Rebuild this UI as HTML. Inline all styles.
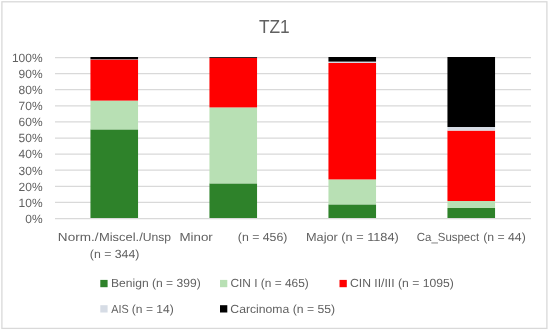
<!DOCTYPE html>
<html lang="en"><head><meta charset="utf-8"><title>TZ1</title>
<style>html,body{margin:0;padding:0;background:#fff}svg{display:block}text{font-family:"Liberation Sans",Arial,sans-serif;fill:#616161;text-rendering:geometricPrecision}</style></head>
<body>
<svg width="550" height="332" viewBox="0 0 550 332">
<defs><filter id="soft" x="0" y="0" width="550" height="332" filterUnits="userSpaceOnUse" color-interpolation-filters="sRGB"><feGaussianBlur stdDeviation="0.4"/></filter></defs>
<g filter="url(#soft)">
<rect x="-5" y="-5" width="560" height="342" fill="#fff"/>
<rect x="1.9" y="1.8" width="545" height="326.6" fill="#fff" stroke="#D9D9D9" stroke-width="1.3"/>
<line x1="55.0" y1="218.50" x2="531.0" y2="218.50" stroke="#D9D9D9" stroke-width="1.25"/>
<line x1="55.0" y1="202.40" x2="531.0" y2="202.40" stroke="#D9D9D9" stroke-width="1.25"/>
<line x1="55.0" y1="186.30" x2="531.0" y2="186.30" stroke="#D9D9D9" stroke-width="1.25"/>
<line x1="55.0" y1="170.20" x2="531.0" y2="170.20" stroke="#D9D9D9" stroke-width="1.25"/>
<line x1="55.0" y1="154.10" x2="531.0" y2="154.10" stroke="#D9D9D9" stroke-width="1.25"/>
<line x1="55.0" y1="138.00" x2="531.0" y2="138.00" stroke="#D9D9D9" stroke-width="1.25"/>
<line x1="55.0" y1="121.90" x2="531.0" y2="121.90" stroke="#D9D9D9" stroke-width="1.25"/>
<line x1="55.0" y1="105.80" x2="531.0" y2="105.80" stroke="#D9D9D9" stroke-width="1.25"/>
<line x1="55.0" y1="89.70" x2="531.0" y2="89.70" stroke="#D9D9D9" stroke-width="1.25"/>
<line x1="55.0" y1="73.60" x2="531.0" y2="73.60" stroke="#D9D9D9" stroke-width="1.25"/>
<line x1="55.0" y1="57.50" x2="531.0" y2="57.50" stroke="#D9D9D9" stroke-width="1.25"/>
<rect x="90.45" y="129.40" width="47.60" height="88.60" fill="#2E822A"/>
<rect x="90.45" y="100.60" width="47.60" height="28.80" fill="#B8E0B4"/>
<rect x="90.45" y="59.60" width="47.60" height="41.00" fill="#FF0000"/>
<rect x="90.45" y="59.30" width="47.60" height="0.30" fill="#D6DCE5"/>
<rect x="90.45" y="57.00" width="47.60" height="2.30" fill="#000000"/>
<rect x="209.45" y="183.40" width="47.60" height="34.60" fill="#2E822A"/>
<rect x="209.45" y="107.40" width="47.60" height="76.00" fill="#B8E0B4"/>
<rect x="209.45" y="57.90" width="47.60" height="49.50" fill="#FF0000"/>
<rect x="209.45" y="57.80" width="47.60" height="0.10" fill="#D6DCE5"/>
<rect x="209.45" y="57.00" width="47.60" height="0.80" fill="#000000"/>
<rect x="328.45" y="204.40" width="47.60" height="13.60" fill="#2E822A"/>
<rect x="328.45" y="179.40" width="47.60" height="25.00" fill="#B8E0B4"/>
<rect x="328.45" y="63.00" width="47.60" height="116.40" fill="#FF0000"/>
<rect x="328.45" y="61.60" width="47.60" height="1.40" fill="#D6DCE5"/>
<rect x="328.45" y="57.00" width="47.60" height="4.60" fill="#000000"/>
<rect x="447.45" y="208.00" width="47.60" height="10.00" fill="#2E822A"/>
<rect x="447.45" y="201.00" width="47.60" height="7.00" fill="#B8E0B4"/>
<rect x="447.45" y="130.60" width="47.60" height="70.40" fill="#FF0000"/>
<rect x="447.45" y="127.00" width="47.60" height="3.60" fill="#D6DCE5"/>
<rect x="447.45" y="57.00" width="47.60" height="70.00" fill="#000000"/>
<text x="258.92" y="33" font-size="19.0" textLength="30.81" lengthAdjust="spacingAndGlyphs">TZ1</text>
<text x="25.26" y="223" font-size="12.0" textLength="17.31" lengthAdjust="spacingAndGlyphs">0%</text>
<text x="18.60" y="207" font-size="12.0" textLength="23.98" lengthAdjust="spacingAndGlyphs">10%</text>
<text x="18.60" y="191" font-size="12.0" textLength="23.98" lengthAdjust="spacingAndGlyphs">20%</text>
<text x="18.60" y="175" font-size="12.0" textLength="23.98" lengthAdjust="spacingAndGlyphs">30%</text>
<text x="18.60" y="158" font-size="12.0" textLength="23.98" lengthAdjust="spacingAndGlyphs">40%</text>
<text x="18.60" y="142" font-size="12.0" textLength="23.98" lengthAdjust="spacingAndGlyphs">50%</text>
<text x="18.60" y="126" font-size="12.0" textLength="23.98" lengthAdjust="spacingAndGlyphs">60%</text>
<text x="18.60" y="110" font-size="12.0" textLength="23.98" lengthAdjust="spacingAndGlyphs">70%</text>
<text x="18.60" y="94" font-size="12.0" textLength="23.98" lengthAdjust="spacingAndGlyphs">80%</text>
<text x="18.60" y="78" font-size="12.0" textLength="23.98" lengthAdjust="spacingAndGlyphs">90%</text>
<text x="11.94" y="62" font-size="12.0" textLength="30.64" lengthAdjust="spacingAndGlyphs">100%</text>
<text y="241" font-size="11.8" xml:space="preserve"><tspan x="57.89" textLength="40.61" lengthAdjust="spacingAndGlyphs">Norm./</tspan><tspan x="98.94" textLength="43.86" lengthAdjust="spacingAndGlyphs">Miscel./</tspan><tspan x="142.77" textLength="28.34" lengthAdjust="spacingAndGlyphs">Unsp</tspan></text>
<text x="89.84" y="258" font-size="11.8" textLength="49.53" lengthAdjust="spacingAndGlyphs">(n = 344)</text>
<text x="179.51" y="241" font-size="11.8" textLength="33.30" lengthAdjust="spacingAndGlyphs">Minor</text>
<text x="237.84" y="241" font-size="11.8" textLength="49.53" lengthAdjust="spacingAndGlyphs">(n = 456)</text>
<text x="305.96" y="241" font-size="11.8" textLength="92.83" lengthAdjust="spacingAndGlyphs">Major (n = 1184)</text>
<text y="241" font-size="11.8" xml:space="preserve"><tspan x="416.83" textLength="62.25" lengthAdjust="spacingAndGlyphs">Ca_Suspect</tspan><tspan x="479.84" textLength="45.92" lengthAdjust="spacingAndGlyphs"> (n = 44)</tspan></text>
<text x="111.01" y="287" font-size="11.8" textLength="89.74" lengthAdjust="spacingAndGlyphs">Benign (n = 399)</text>
<text x="230.41" y="287" font-size="11.8" textLength="78.33" lengthAdjust="spacingAndGlyphs">CIN I (n = 465)</text>
<text x="349.99" y="287" font-size="11.8" textLength="103.77" lengthAdjust="spacingAndGlyphs">CIN II/III (n = 1095)</text>
<text y="313" font-size="11.8" xml:space="preserve"><tspan x="111.28" textLength="17.41" lengthAdjust="spacingAndGlyphs">AIS</tspan><tspan x="128.50" textLength="45.25" lengthAdjust="spacingAndGlyphs"> (n = 14)</tspan></text>
<text x="230.39" y="313" font-size="11.8" textLength="104.66" lengthAdjust="spacingAndGlyphs">Carcinoma (n = 55)</text>
<rect x="100.3" y="279.9" width="7.3" height="7.3" fill="#2E822A"/>
<rect x="220.0" y="279.9" width="7.3" height="7.3" fill="#B8E0B4"/>
<rect x="339.5" y="279.9" width="7.3" height="7.3" fill="#FF0000"/>
<rect x="100.3" y="305.2" width="7.3" height="7.3" fill="#D6DCE5"/>
<rect x="220.0" y="305.2" width="7.3" height="7.3" fill="#000000"/>
</g>
</svg>
</body></html>
